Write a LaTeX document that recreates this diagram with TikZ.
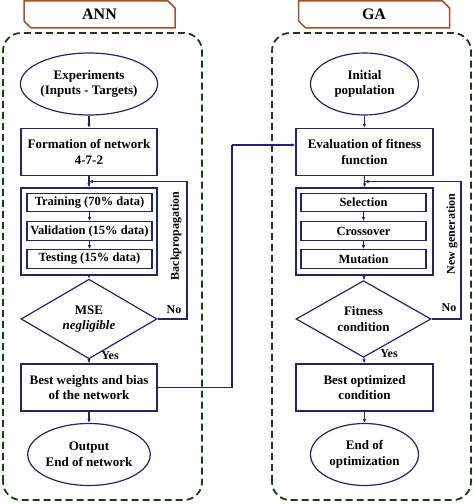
\documentclass[tikz,border=0pt]{standalone}
\usepackage{fontspec}
\setmainfont{Liberation Serif}
\usetikzlibrary{
    shapes.geometric,
    shapes.misc,
    arrows.meta,
    positioning
}
\definecolor{navy}{RGB}{35,35,110}
\definecolor{darkframe}{RGB}{25,60,25}
\definecolor{tabbrown}{RGB}{160,82,45}

\begin{document}
\begin{tikzpicture}[x=1pt,y=1pt,
    font=\bfseries\fontsize{13}{15.5}\selectfont,
    box/.style={draw=navy,line width=1.2pt,rectangle,minimum width=136pt,minimum height=47pt,align=center,inner sep=0pt},
    sub/.style={draw=navy,line width=1.2pt,rectangle,minimum width=125pt,minimum height=18.5pt,inner sep=0pt,font=\bfseries\fontsize{12.5}{15}\selectfont},
    term/.style={draw=navy,line width=1.2pt,ellipse,minimum width=108pt,minimum height=62pt,align=center,inner sep=0pt},
    cond/.style={draw=navy,line width=1.2pt,diamond,minimum width=136pt,minimum height=62pt,align=center,inner sep=0pt},
    header/.style={draw=tabbrown,line width=1.5pt,chamfered rectangle,chamfered rectangle corners={north east,south west},chamfered rectangle xsep=4pt,minimum width=151pt,minimum height=27pt,inner sep=0pt,font=\bfseries\fontsize{16}{18}\selectfont},
    group/.style={draw=darkframe,line width=1.8pt,dash pattern=on 7pt off 4pt,rounded corners=18pt},
    flow/.style={draw=navy,line width=1.1pt,-{Latex[length=4pt,width=3.5pt]}},
    link/.style={draw=navy,line width=1.1pt},
    side/.style={font=\bfseries\fontsize{12}{14}\selectfont,inner sep=0pt}
]
    \useasboundingbox (0,0) rectangle (474,504);

    % frames and headers
    \draw[group] (3,4) rectangle (202,471);
    \draw[group] (272,4) rectangle (471,471);
    \node[header] (hann) at (99.5,489.5) {ANN};
    \node[header] (hga) at (374,489.5) {GA};

    % ANN column
    \node[term] (exp) at (89,420) {Experiments\\(Inputs - Targets)};
    \node[box] (form) at (89,352) {Formation of network\\4-7-2};
    \node[box,minimum height=87pt] (data) at (89,272.5) {};
    \node[sub] (train) at (89.5,301.5) {Training (70\% data)};
    \node[sub] (valid) at (89.5,273) {Validation (15\% data)};
    \node[sub] (test) at (89.5,245) {Testing (15\% data)};
    \node[cond] (mse) at (89,185) {MSE\\\textit{negligible}};
    \node[box] (best) at (89,116.5) {Best weights and bias\\of the network};
    \node[term] (out) at (89,49.5) {Output\\End of network};
    \coordinate (bpin) at (89,322.5);
    \coordinate (bpr) at (187,185);
    \coordinate (bpt) at (187,322.5);
    \node[side] (bpno) at (174,194) {No};
    \node[side,rotate=90] (bplab) at (176,268) {Backpropagation};
    \node[side] (mseyes) at (110,148) {Yes};

    % GA column
    \node[term] (init) at (364.5,420) {Initial\\population};
    \node[box,minimum width=137pt] (eval) at (364.5,352) {Evaluation of fitness\\function};
    \node[box,minimum width=137pt,minimum height=87pt] (ops) at (364.5,272.5) {};
    \node[sub] (sel) at (363.5,301.5) {Selection};
    \node[sub] (cross) at (363.5,273) {Crossover};
    \node[sub] (mut) at (363.5,245) {Mutation};
    \node[cond,minimum width=135pt] (fit) at (363.5,185) {Fitness\\condition};
    \node[box,minimum width=137pt] (bopt) at (364.5,116.5) {Best optimized\\condition};
    \node[term] (eopt) at (364.5,49.5) {End of\\optimization};
    \coordinate (ngin) at (364.5,322.5);
    \coordinate (ngr) at (461,185);
    \coordinate (ngt) at (461,322.5);
    \node[side] (ngno) at (449,196) {No};
    \node[side,rotate=90] (nglab) at (452,270) {New generation};
    \node[side] (fityes) at (389,150) {Yes};

    % link between columns
    \coordinate (lk1) at (232,116.5);
    \coordinate (lk2) at (232,359);

    \draw[flow] (exp) -- (form);
    \draw[flow] (form) -- (data);
    \draw[flow] (train) -- (valid);
    \draw[flow] (valid) -- (test);
    \draw[flow] (data) -- (mse);
    \draw[flow] (mse) -- (best);
    \draw[flow] (best) -- (out);
    \draw[link] (mse.east) -- (bpr) -- (bpt);
    \draw[flow] (bpt) -- (bpin);

    \draw[flow] (init) -- (eval);
    \draw[flow] (eval) -- (ops);
    \draw[flow] (sel) -- (cross);
    \draw[flow] (cross) -- (mut);
    \draw[flow] (ops) -- (fit);
    \draw[flow] (fit) -- (bopt);
    \draw[flow] (bopt) -- (eopt);
    \draw[link] (fit.east) -- (ngr) -- (ngt);
    \draw[flow] (ngt) -- (ngin);

    \draw[link] (best.east) -- (lk1) -- (lk2);
    \draw[flow] (lk2) -- ([yshift=7pt]eval.west);
\end{tikzpicture}
\end{document}
